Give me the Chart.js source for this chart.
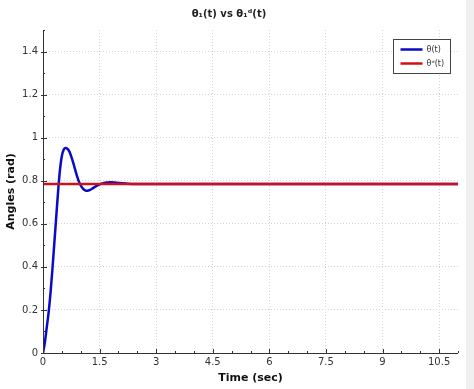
<!DOCTYPE html>
<html>
<head>
<meta charset="utf-8">
<script src="https://cdn.jsdelivr.net/npm/chart.js@4/dist/chart.umd.min.js"></script>
<style>
  html, body { margin: 0; padding: 0; }
  body { width: 474px; height: 389px; background: linear-gradient(to right, #ffffff 466px, #f0f0f0 466px); overflow: hidden; }
  #wrap { position: absolute; left: 0; top: 0; width: 474px; height: 389px; }
</style>
</head>
<body>
<div id="wrap"><canvas id="c" width="474" height="389"></canvas></div>
<script>
// ---- data ----
const timeValues  = [0, 0.05, 0.1, 0.15, 0.2, 0.25, 0.3, 0.35, 0.4, 0.45, 0.5, 0.55, 0.6, 0.65, 0.7, 0.75, 0.8, 0.85, 0.9, 0.95, 1.0, 1.05, 1.1, 1.15, 1.2, 1.25, 1.3, 1.4, 1.5, 1.6, 1.7, 1.8, 1.9, 2.0, 2.2, 2.4, 2.6, 2.8, 3.0, 4, 5, 6, 7, 8, 9, 10, 11];
const thetaValues = [0, 0.05, 0.12, 0.19, 0.28, 0.39, 0.51, 0.63, 0.75, 0.85, 0.915, 0.945, 0.952, 0.948, 0.935, 0.912, 0.884, 0.853, 0.823, 0.797, 0.778, 0.765, 0.757, 0.754, 0.755, 0.758, 0.763, 0.774, 0.783, 0.789, 0.792, 0.793, 0.792, 0.790, 0.787, 0.785, 0.785, 0.785, 0.785, 0.785, 0.785, 0.785, 0.785, 0.785, 0.785, 0.785, 0.785];
const desiredTime  = [0, 11];
const desiredValue = [0.785, 0.785];
const seriesLabels = ['θ(t)', 'θᵈ(t)'];
const chartTitle = 'θ₁(t) vs θ₁ᵈ(t)';
const xTitle = 'Time (sec)';
const yTitle = 'Angles (rad)';

const toPts = (xs, ys) => xs.map((x, i) => ({x: x, y: ys[i]}));

const minorTicks = {
  id: 'minorTicks',
  afterDraw(chart) {
    const ctx = chart.ctx, x = chart.scales.x, y = chart.scales.y;
    const a = chart.chartArea;
    ctx.save();
    ctx.strokeStyle = '#333';
    ctx.lineWidth = 1;
    ctx.setLineDash([]);
    ctx.beginPath();
    // axis lines (solid)
    ctx.moveTo(Math.round(a.left) + 0.5, a.top);
    ctx.lineTo(Math.round(a.left) + 0.5, Math.round(a.bottom) + 0.5);
    ctx.lineTo(a.right, Math.round(a.bottom) + 0.5);
    for (let v = 0; v <= 11.0001; v += 0.5) {
      const px = Math.round(x.getPixelForValue(v)) + 0.5;
      const major = Math.abs(v / 1.5 - Math.round(v / 1.5)) < 1e-6;
      ctx.moveTo(px, a.bottom);
      ctx.lineTo(px, a.bottom - (major ? 4 : 2));
    }
    for (let v = 0; v <= 1.5001; v += 0.1) {
      const py = Math.round(y.getPixelForValue(v)) + 0.5;
      const major = Math.abs(v / 0.2 - Math.round(v / 0.2)) < 1e-6;
      ctx.moveTo(a.left - (major ? 2 : 0), py);
      ctx.lineTo(a.left + (major ? 4 : 2), py);
    }
    ctx.stroke();
    ctx.restore();
  }
};

const boxLegend = {
  id: 'boxLegend',
  afterDraw(chart) {
    const ctx = chart.ctx;
    const bx = 393.5, by = 39.5, bw = 57, bh = 34;
    ctx.save();
    ctx.fillStyle = '#ffffff';
    ctx.fillRect(bx, by, bw, bh);
    ctx.strokeStyle = '#444';
    ctx.lineWidth = 1;
    ctx.strokeRect(bx, by, bw, bh);
    ctx.font = '8px "DejaVu Sans"';
    ctx.textBaseline = 'middle';
    chart.data.datasets.forEach((ds, i) => {
      const yy = by + 10 + i * 14;
      ctx.strokeStyle = ds.borderColor;
      ctx.lineWidth = 2.5;
      ctx.beginPath();
      ctx.moveTo(bx + 7, yy);
      ctx.lineTo(bx + 29, yy);
      ctx.stroke();
      ctx.fillStyle = '#333';
      ctx.fillText(ds.label, bx + 33, yy);
    });
    ctx.restore();
  }
};

new Chart(document.getElementById('c'), {
  type: 'line',
  data: {
    datasets: [
      { label: seriesLabels[0], data: toPts(timeValues, thetaValues), borderColor: '#0a0ac8', borderWidth: 2.5, pointRadius: 0, cubicInterpolationMode: 'monotone', order: 2 },
      { label: seriesLabels[1], data: toPts(desiredTime, desiredValue), borderColor: '#d01018', borderWidth: 2.5, pointRadius: 0, order: 1 }
    ]
  },
  options: {
    responsive: false,
    animation: false,
    layout: { padding: { left: 0, right: 16, top: 0, bottom: 0 } },
    plugins: {
      legend: { display: false },
      tooltip: { enabled: false },
      title: { display: true, text: chartTitle, color: '#222', font: { family: '"DejaVu Sans"', size: 10, weight: 'bold', lineHeight: 1.2 }, padding: { top: 8, bottom: 10 } }
    },
    scales: {
      x: {
        type: 'linear', min: 0, max: 11,
        afterFit: s => { s.height = 36; },
        ticks: { stepSize: 1.5, includeBounds: false, color: '#333', padding: 3, maxRotation: 0, font: { family: '"DejaVu Sans"', size: 10 },
                 callback: v => String(v) },
        grid: { color: '#d4d4d4', drawTicks: false, tickLength: 0 },
        border: { display: false, dash: [1, 2] },
        title: { display: true, text: xTitle, color: '#111', font: { family: '"DejaVu Sans"', size: 11, weight: 'bold' }, padding: { top: 1, bottom: 4 } }
      },
      y: {
        type: 'linear', min: 0, max: 1.5,
        afterFit: s => { s.width = 43; },
        ticks: { stepSize: 0.2, includeBounds: false, color: '#333', padding: 5, font: { family: '"DejaVu Sans"', size: 10 },
                 callback: v => String(Math.round(v * 10) / 10) },
        grid: { color: '#d4d4d4', drawTicks: false, tickLength: 0 },
        border: { display: false, dash: [1, 2] },
        title: { display: true, text: yTitle, color: '#111', font: { family: '"DejaVu Sans"', size: 11, weight: 'bold' }, padding: { top: 5, bottom: 0 } }
      }
    }
  },
  plugins: [minorTicks, boxLegend]
});
</script>
</body>
</html>
